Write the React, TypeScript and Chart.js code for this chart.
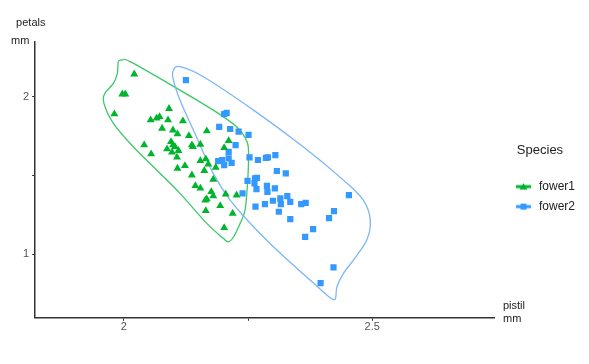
import { useEffect, useRef } from "react";
import { Chart, registerables } from "chart.js";

Chart.register(...registerables);

const speciesNames = ["fower1", "fower2"];
const xTickLabels: Record<string, string> = { "2": "2", "2.25": "", "2.5": "2.5" };
const yTickLabels: Record<string, string> = { "1": "1", "1.5": "", "2": "2" };

const fower1X = [2.021, 1.997, 2.003, 1.981, 2.091, 2.054, 2.066, 2.072, 2.089, 2.119, 2.077, 2.099, 2.108, 2.167, 2.131, 2.211, 2.041, 2.055, 2.095, 2.099, 2.103, 2.087, 2.097, 2.110, 2.107, 2.137, 2.139, 2.154, 2.202, 2.154, 2.165, 2.170, 2.123, 2.108, 2.185, 2.162, 2.137, 2.180, 2.144, 2.154, 2.176, 2.180, 2.164, 2.167, 2.205, 2.227, 2.194, 2.165, 2.219, 2.202];
const fower1Y = [2.144, 2.017, 2.017, 1.890, 1.924, 1.852, 1.863, 1.873, 1.852, 1.846, 1.799, 1.788, 1.763, 1.782, 1.752, 1.720, 1.693, 1.636, 1.714, 1.693, 1.682, 1.668, 1.647, 1.657, 1.615, 1.693, 1.682, 1.697, 1.676, 1.593, 1.604, 1.572, 1.561, 1.545, 1.551, 1.530, 1.502, 1.475, 1.434, 1.418, 1.396, 1.369, 1.343, 1.350, 1.381, 1.375, 1.307, 1.275, 1.259, 1.167];

const fower2X = [2.125, 2.202, 2.207, 2.192, 2.214, 2.231, 2.251, 2.225, 2.211, 2.211, 2.190, 2.198, 2.202, 2.217, 2.253, 2.270, 2.286, 2.290, 2.305, 2.308, 2.326, 2.249, 2.264, 2.268, 2.263, 2.267, 2.288, 2.289, 2.304, 2.239, 2.300, 2.315, 2.329, 2.316, 2.335, 2.284, 2.265, 2.312, 2.357, 2.366, 2.335, 2.453, 2.423, 2.413, 2.381, 2.365, 2.422, 2.396];
const fower2Y = [2.106, 1.890, 1.898, 1.809, 1.795, 1.778, 1.757, 1.693, 1.650, 1.608, 1.591, 1.598, 1.566, 1.580, 1.615, 1.598, 1.612, 1.615, 1.629, 1.528, 1.513, 1.466, 1.481, 1.485, 1.449, 1.413, 1.434, 1.396, 1.418, 1.386, 1.339, 1.354, 1.369, 1.318, 1.332, 1.318, 1.301, 1.269, 1.318, 1.326, 1.222, 1.375, 1.273, 1.229, 1.159, 1.110, 0.915, 0.816];

const fower1HullX = [1.989, 1.996, 2.013, 2.107, 2.180, 2.227, 2.248, 2.251, 2.249, 2.244, 2.234, 2.221, 2.211, 2.200, 2.167, 2.113, 2.066, 2.019, 1.979, 1.960, 1.962, 1.979, 1.987];
const fower1HullY = [2.223, 2.233, 2.223, 2.053, 1.915, 1.809, 1.714, 1.619, 1.450, 1.280, 1.195, 1.110, 1.078, 1.100, 1.195, 1.386, 1.534, 1.682, 1.831, 1.958, 2.022, 2.085, 2.149];
const fower2HullX = [2.100, 2.113, 2.160, 2.261, 2.361, 2.442, 2.482, 2.496, 2.489, 2.462, 2.442, 2.429, 2.425, 2.409, 2.375, 2.315, 2.261, 2.214, 2.180, 2.140, 2.113, 2.099];
const fower2HullY = [2.170, 2.191, 2.127, 1.915, 1.682, 1.470, 1.343, 1.216, 1.089, 0.962, 0.877, 0.792, 0.712, 0.739, 0.835, 1.005, 1.174, 1.343, 1.513, 1.788, 1.979, 2.117];

const pointColors = ["#00b52e", "#3399ff"];
const hullColors = ["#3cc868", "#7db6f5"];

function makeIcon(color: string, shape: "triangle" | "square"): HTMLCanvasElement {
  const c = document.createElement("canvas");
  c.width = 30;
  c.height = 10;
  const g = c.getContext("2d")!;
  g.strokeStyle = color;
  g.fillStyle = color;
  g.lineWidth = 3;
  g.beginPath();
  g.moveTo(13, 5);
  g.lineTo(28, 5);
  g.stroke();
  g.beginPath();
  if (shape === "triangle") {
    g.moveTo(20.5, 1.5);
    g.lineTo(24.5, 8);
    g.lineTo(16.5, 8);
    g.closePath();
  } else {
    g.rect(17.5, 2, 6, 6);
  }
  g.fill();
  return c;
}

const hullPlugin = {
  id: "hulls",
  beforeDatasetsDraw(chart: any) {
    const { ctx, scales } = chart;
    const hulls = [
      [fower1HullX, fower1HullY],
      [fower2HullX, fower2HullY],
    ];
    ctx.save();
    ctx.beginPath();
    ctx.rect(chart.chartArea.left, chart.chartArea.top, chart.chartArea.right - chart.chartArea.left, chart.chartArea.bottom - chart.chartArea.top);
    ctx.clip();
    hulls.forEach(([hx, hy], k) => {
      const pts = hx.map((v: number, i: number) => [scales.x.getPixelForValue(v), scales.y.getPixelForValue(hy[i])]);
      const n = pts.length;
      ctx.beginPath();
      ctx.moveTo(pts[0][0], pts[0][1]);
      for (let i = 0; i < n; i++) {
        const p0 = pts[(i - 1 + n) % n];
        const p1 = pts[i];
        const p2 = pts[(i + 1) % n];
        const p3 = pts[(i + 2) % n];
        ctx.bezierCurveTo(
          p1[0] + (p2[0] - p0[0]) / 6,
          p1[1] + (p2[1] - p0[1]) / 6,
          p2[0] - (p3[0] - p1[0]) / 6,
          p2[1] - (p3[1] - p1[1]) / 6,
          p2[0],
          p2[1]
        );
      }
      ctx.closePath();
      ctx.strokeStyle = hullColors[k];
      ctx.lineWidth = 1.3;
      ctx.stroke();
    });
    ctx.restore();
  },
};

const axisLabelPlugin = {
  id: "axisLabels",
  afterDraw(chart: any) {
    const { ctx, chartArea } = chart;
    ctx.save();
    ctx.fillStyle = "#222";
    ctx.font = "11px 'Liberation Sans', Arial, sans-serif";
    ctx.textAlign = "left";
    ctx.textBaseline = "middle";
    ctx.fillText("petals", chartArea.left - 19, chartArea.top - 19);
    ctx.fillText("mm", chartArea.left - 24, chartArea.top - 1);
    ctx.fillText("pistil", chartArea.right + 8, chartArea.bottom - 12);
    ctx.fillText("mm", chartArea.right + 8, chartArea.bottom + 1);
    ctx.restore();
  },
};

export default function App() {
  const ref = useRef<HTMLCanvasElement>(null);

  useEffect(() => {
    document.body.style.margin = "0";
    const icons = [makeIcon(pointColors[0], "triangle"), makeIcon(pointColors[1], "square")];
    const chart = new Chart(ref.current!, {
      type: "scatter",
      data: {
        datasets: [
          {
            label: speciesNames[0],
            data: fower1X.map((x, i) => ({ x, y: fower1Y[i] })),
            pointStyle: "triangle",
            pointRadius: 4.6,
            backgroundColor: pointColors[0],
            borderColor: pointColors[0],
            borderWidth: 0,
          },
          {
            label: speciesNames[1],
            data: fower2X.map((x, i) => ({ x, y: fower2Y[i] })),
            pointStyle: "rect",
            pointRadius: 4.4,
            backgroundColor: pointColors[1],
            borderColor: pointColors[1],
            borderWidth: 0,
          },
        ],
      },
      options: {
        animation: false,
        responsive: false,
        layout: { padding: { top: 42, bottom: 30, left: 20, right: 4 } },
        scales: {
          x: {
            type: "linear",
            min: 1.8215,
            max: 2.747,
            border: { display: true, color: "#333", width: 1.5 },
            grid: { drawOnChartArea: false, drawTicks: true, tickLength: 3, color: "#333" },
            ticks: {
              stepSize: 0.25,
              includeBounds: false,
              padding: 0,
              color: "#555",
              font: { size: 11, family: "'Liberation Sans', Arial, sans-serif" },
              callback: (v: any) => xTickLabels[String(v)] ?? "",
            },
          },
          y: {
            type: "linear",
            min: 0.595,
            max: 2.348,
            border: { display: true, color: "#333", width: 1.5 },
            grid: { drawOnChartArea: false, drawTicks: true, tickLength: 3, color: "#333" },
            ticks: {
              stepSize: 0.5,
              includeBounds: false,
              padding: 3,
              color: "#555",
              font: { size: 11, family: "'Liberation Sans', Arial, sans-serif" },
              callback: (v: any) => yTickLabels[String(v)] ?? "",
            },
          },
        },
        plugins: {
          tooltip: { enabled: false },
          legend: {
            position: "right",
            align: "start",
            title: {
              display: true,
              text: "Species",
              color: "#222",
              font: { size: 13, family: "'Liberation Sans', Arial, sans-serif" },
              padding: { top: 102, bottom: 13 },
            },
            labels: {
              usePointStyle: true,
              pointStyleWidth: 30,
              padding: 8,
              color: "#222",
              font: { size: 12, family: "'Liberation Sans', Arial, sans-serif" },
              generateLabels: (c: any) =>
                c.data.datasets.map((ds: any, i: number) => ({
                  text: ds.label,
                  pointStyle: icons[i],
                  fillStyle: pointColors[i],
                  strokeStyle: pointColors[i],
                  lineWidth: 0,
                  hidden: false,
                  datasetIndex: i,
                  fontColor: "#222",
                })),
            },
          },
        },
      },
      plugins: [hullPlugin, axisLabelPlugin],
    });
    return () => chart.destroy();
  }, []);

  return (
    <div style={{ width: 589, height: 364 }}>
      <canvas ref={ref} width={589} height={364} />
    </div>
  );
}
